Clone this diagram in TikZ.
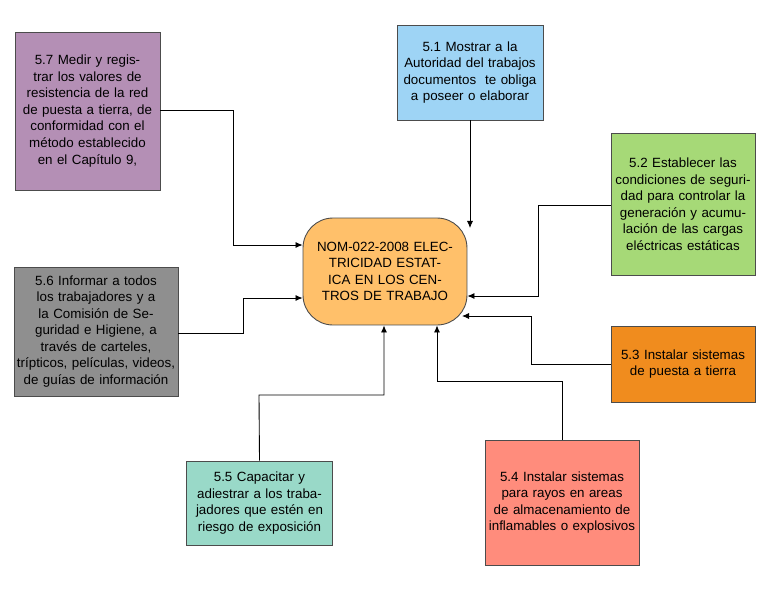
\documentclass[tikz,border=0pt]{standalone}
\usepackage{fontspec}
\setmainfont{Liberation Sans}
\usetikzlibrary{arrows.meta}
\definecolor{cpur}{HTML}{B48FB5}
\definecolor{cblue}{HTML}{9ED4F5}
\definecolor{cgreen}{HTML}{A6D977}
\definecolor{cgray}{HTML}{8F8F8F}
\definecolor{corg}{HTML}{F08C1E}
\definecolor{cteal}{HTML}{99D9C8}
\definecolor{csal}{HTML}{FF8C7C}
\definecolor{ccen}{HTML}{FFC06A}
\begin{document}
\begin{tikzpicture}[x=0.02cm,y=-0.02cm,
  bx/.style={draw=black!70,line width=0.5pt,align=center,inner sep=1pt,font=\fontsize{7.6}{9.4}\selectfont},
  con/.style={draw=black,line width=0.5pt,-{Latex[length=4pt,width=3.5pt]}}]
\useasboundingbox (0,0) rectangle (768,593);
\fill[white] (0,0) rectangle (768,593);
\node[bx,fill=cpur,minimum width=2.9cm,minimum height=3.16cm,text width=2.8cm] (a) at (87.5,111) {5.7 Medir y registrar los valores de resistencia de la red de puesta a tierra, de conformidad con el método establecido en el Capítulo 9,\\[2.2em]};
\node[bx,fill=cblue,minimum width=2.92cm,minimum height=1.9cm,text width=2.85cm] (b) at (470,72.5) {5.1 Mostrar a la Autoridad del trabajos documentos\ \ te obliga a poseer o elaborar};
\node[bx,fill=cgreen,minimum width=2.88cm,minimum height=2.84cm,text width=2.8cm] (c) at (683,204) {5.2 Establecer las condiciones de seguridad para controlar la generación y acumulación de las cargas\\ eléctricas estáticas};
\node[bx,fill=ccen,rounded corners=0.6cm,minimum width=3.28cm,minimum height=2.14cm,text width=3.2cm] (m) at (385,271.5) {NOM-022-2008 ELECTRICIDAD ESTATICA EN LOS CENTROS DE TRABAJO\\[1.2em]};
\node[bx,fill=cgray,minimum width=3.28cm,minimum height=2.58cm,text width=3.2cm] (d) at (96,331.5) {5.6 Informar a todos los trabajadores y a la Comisión de Seguridad e Higiene, a través de carteles,\\ trípticos, películas, videos, de guías de información};
\node[bx,fill=corg,minimum width=2.88cm,minimum height=1.52cm,text width=2.8cm] (e) at (683,364) {5.3 Instalar sistemas de puesta a tierra};
\node[bx,fill=cteal,minimum width=2.9cm,minimum height=1.68cm,text width=2.85cm] (f) at (259.5,503) {5.5 Capacitar y adiestrar a los trabajadores que estén en riesgo de exposición};
\node[bx,fill=csal,minimum width=3.08cm,minimum height=2.5cm,text width=3cm] (g) at (562,502.5) {5.4 Instalar sistemas para rayos en areas de almacenamiento de inflamables o explosivos\\[1.2em]};
\draw[con] (a.east|-0,110) -- (233,110) -- (233,245) -- (m.west|-0,245);
\draw[con] (b.south) -- (470,228);
\draw[con] (c.west|-0,205) -- (538,205) -- (538,296) -- (m.east|-0,296);
\draw[con] (d.east|-0,333) -- (243,333) -- (243,298) -- (m.west|-0,298);
\draw[con] (e.west) -- (531,364) -- (531,316) -- (462,316);
\draw[con] (f.north) -- (259,395) -- (384,395) -- (m.south-|384,0);
\draw[con] (g.north) -- (562,381) -- (437,381) -- (m.south-|437,0);
\end{tikzpicture}
\end{document}
